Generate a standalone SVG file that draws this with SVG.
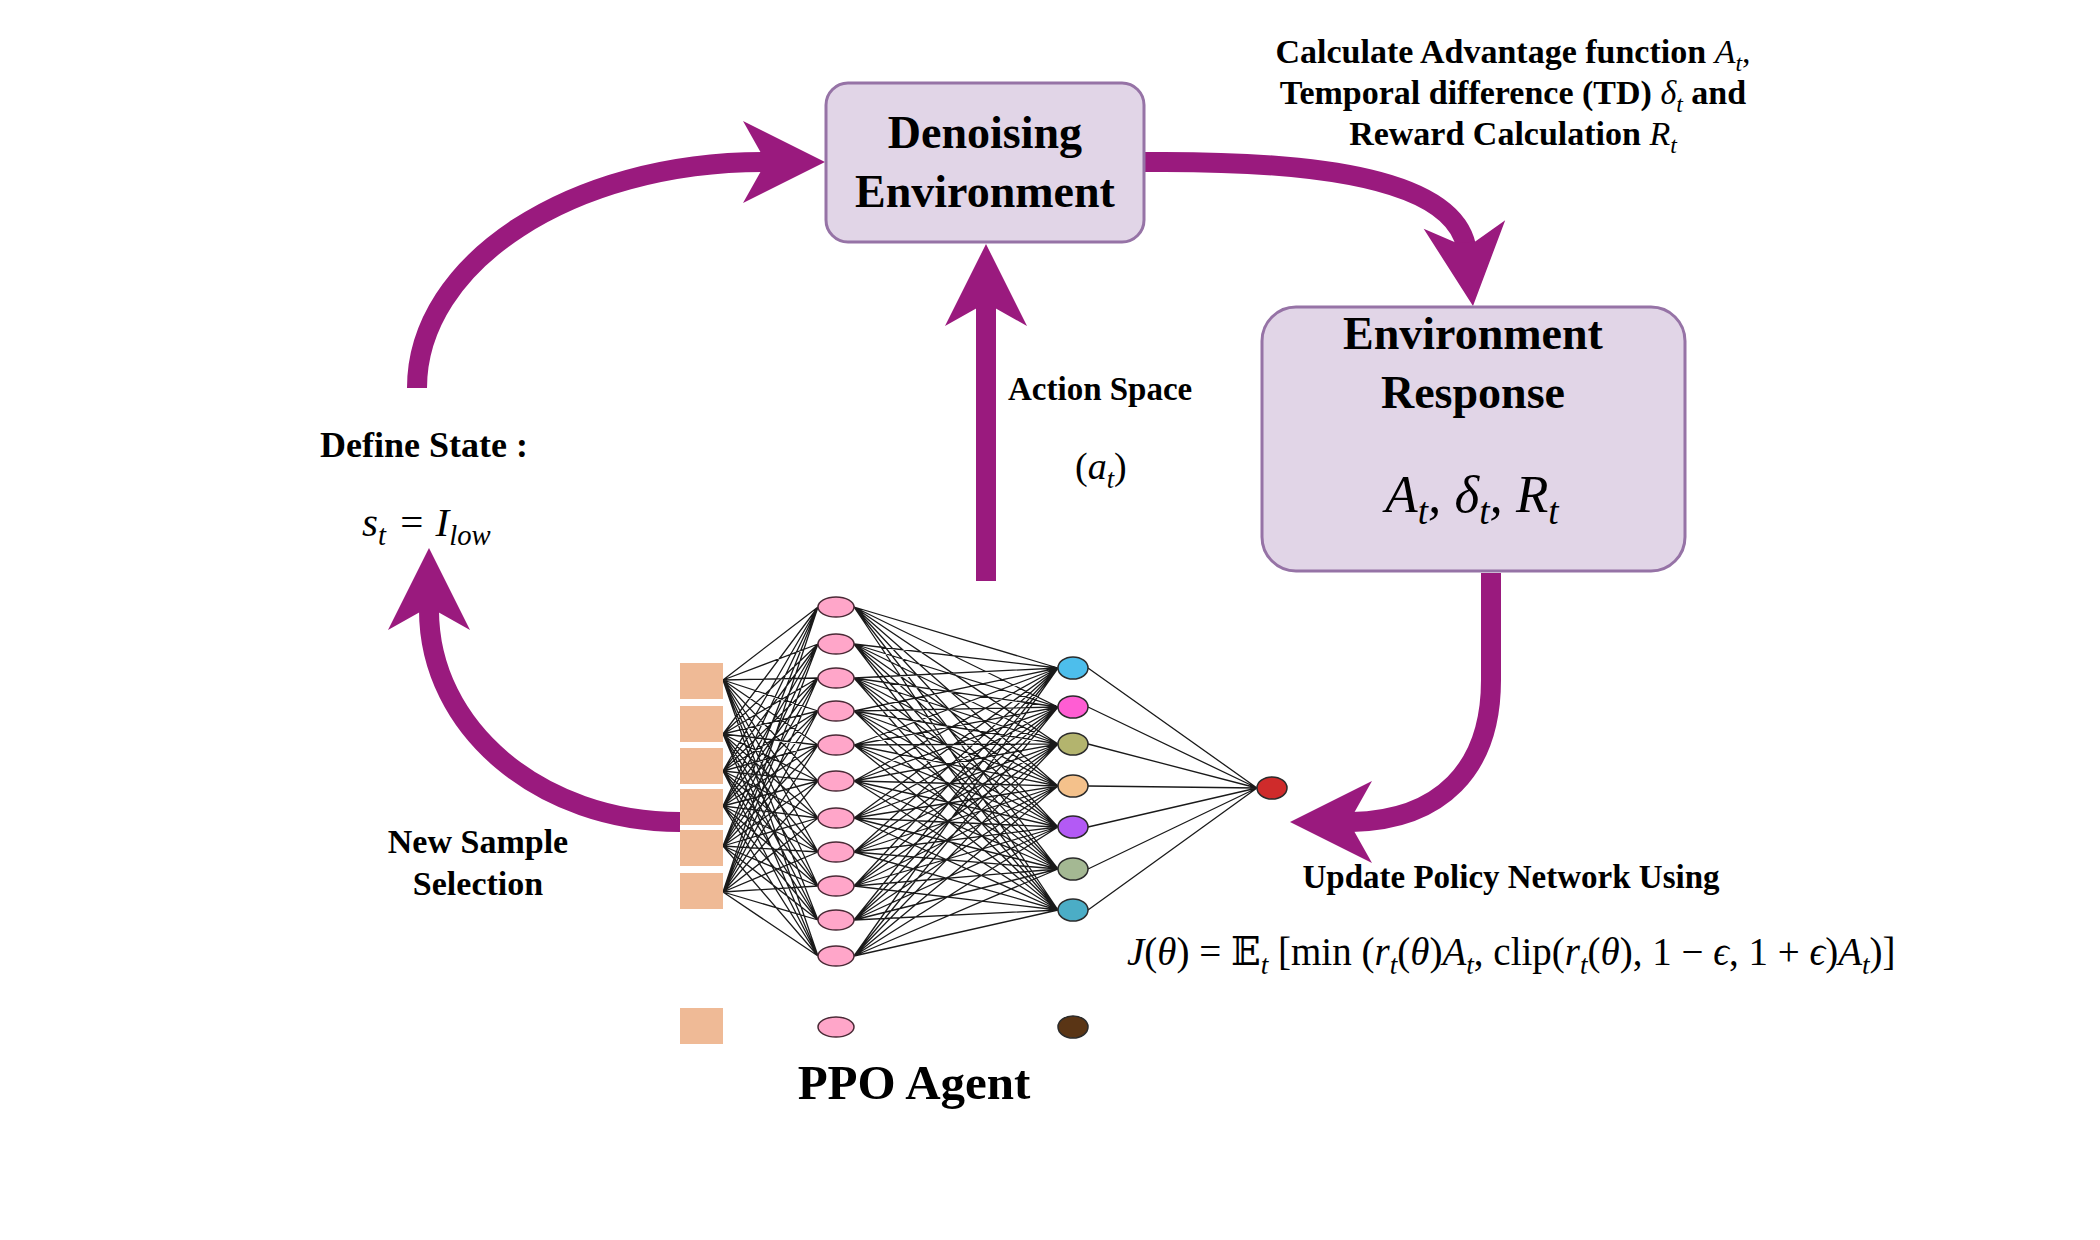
<svg xmlns="http://www.w3.org/2000/svg" width="2100" height="1240" viewBox="0 0 2100 1240">
<style>
.t{font-family:"Liberation Serif","Times New Roman",serif;fill:#000}
.b{font-weight:bold}
.i{font-style:italic;font-weight:normal}
.m{font-weight:normal}
.sub{font-size:70%;baseline-shift:-0.32em}
.box{fill:#E1D5E7;stroke:#9673A6;stroke-width:3}
.arr{fill:none;stroke:#9A1A7E;stroke-width:20}
.ah{fill:#9A1A7E}
.net{fill:none;stroke:#1a1a1a;stroke-width:1.3}
.sq{fill:#EFBA96}
.hn{fill:#FFA6C9;stroke:#4a2a36;stroke-width:1.5}
.on{stroke:#2a2a2a;stroke-width:1.5}
</style>
<defs>
<path id="ah" d="M0 0 L-82 -41 L-64 -9 L-64 9 L-82 41 Z"/>
</defs>
<rect width="2100" height="1240" fill="#fff"/>

<g id="connectors">
<g id="network-links" class="net">
<path d="M723 680L818 607M723 680L818 644M723 680L818 678M723 680L818 711M723 680L818 745M723 680L818 781M723 680L818 818M723 680L818 852M723 680L818 886M723 680L818 920M723 680L818 956
M723 734L818 607M723 734L818 644M723 734L818 678M723 734L818 711M723 734L818 745M723 734L818 781M723 734L818 818M723 734L818 852M723 734L818 886M723 734L818 920M723 734L818 956
M723 771L818 607M723 771L818 644M723 771L818 678M723 771L818 711M723 771L818 745M723 771L818 781M723 771L818 818M723 771L818 852M723 771L818 886M723 771L818 920M723 771L818 956
M723 806L818 607M723 806L818 644M723 806L818 678M723 806L818 711M723 806L818 745M723 806L818 781M723 806L818 818M723 806L818 852M723 806L818 886M723 806L818 920M723 806L818 956
M723 846L818 607M723 846L818 644M723 846L818 678M723 846L818 711M723 846L818 745M723 846L818 781M723 846L818 818M723 846L818 852M723 846L818 886M723 846L818 920M723 846L818 956
M723 892L818 607M723 892L818 644M723 892L818 678M723 892L818 711M723 892L818 745M723 892L818 781M723 892L818 818M723 892L818 852M723 892L818 886M723 892L818 920M723 892L818 956"/>
<path d="M854 607L1058 668M854 607L1058 707M854 607L1058 744M854 607L1058 786M854 607L1058 827M854 607L1058 869M854 607L1058 910
M854 644L1058 668M854 644L1058 707M854 644L1058 744M854 644L1058 786M854 644L1058 827M854 644L1058 869M854 644L1058 910
M854 678L1058 668M854 678L1058 707M854 678L1058 744M854 678L1058 786M854 678L1058 827M854 678L1058 869M854 678L1058 910
M854 711L1058 668M854 711L1058 707M854 711L1058 744M854 711L1058 786M854 711L1058 827M854 711L1058 869M854 711L1058 910
M854 745L1058 668M854 745L1058 707M854 745L1058 744M854 745L1058 786M854 745L1058 827M854 745L1058 869M854 745L1058 910
M854 781L1058 668M854 781L1058 707M854 781L1058 744M854 781L1058 786M854 781L1058 827M854 781L1058 869M854 781L1058 910
M854 818L1058 668M854 818L1058 707M854 818L1058 744M854 818L1058 786M854 818L1058 827M854 818L1058 869M854 818L1058 910
M854 852L1058 668M854 852L1058 707M854 852L1058 744M854 852L1058 786M854 852L1058 827M854 852L1058 869M854 852L1058 910
M854 886L1058 668M854 886L1058 707M854 886L1058 744M854 886L1058 786M854 886L1058 827M854 886L1058 869M854 886L1058 910
M854 920L1058 668M854 920L1058 707M854 920L1058 744M854 920L1058 786M854 920L1058 827M854 920L1058 869M854 920L1058 910
M854 956L1058 668M854 956L1058 707M854 956L1058 744M854 956L1058 786M854 956L1058 827M854 956L1058 869M854 956L1058 910"/>
<path d="M1088 668L1257 788M1088 707L1257 788M1088 744L1257 788M1088 786L1257 788M1088 827L1257 788M1088 869L1257 788M1088 910L1257 788"/>
</g>
<g id="flow-arrows">
<path class="arr" d="M417 388 C417 262 572 162 763 162"/>
<use href="#ah" class="ah" transform="translate(825 162)"/>
<path class="arr" d="M1142 162 C1330 160 1452 182 1466 246"/>
<use href="#ah" class="ah" transform="translate(1473 306) rotate(84)"/>
<path class="arr" d="M986 581 L986 305"/>
<use href="#ah" class="ah" transform="translate(986 244) rotate(-90)"/>
<path class="arr" d="M1491 573 L1491 680 C1491 770 1440 820 1352 822"/>
<use href="#ah" class="ah" transform="translate(1290 822) rotate(180)"/>
<path class="arr" d="M680 822 C541 822 429 729 429 610"/>
<use href="#ah" class="ah" transform="translate(429 548) rotate(-90)"/>
</g>
</g>

<g id="denoising-env">
<rect class="box" x="826" y="83" width="318" height="159" rx="22"/>
<text class="t b" x="985" y="148" font-size="46" text-anchor="middle">Denoising</text>
<text class="t b" x="985" y="207" font-size="46" text-anchor="middle">Environment</text>
</g>

<g id="env-response">
<rect class="box" x="1262" y="307" width="423" height="264" rx="34"/>
<text class="t b" x="1473" y="349" font-size="46" text-anchor="middle">Environment</text>
<text class="t b" x="1473" y="408" font-size="46" text-anchor="middle">Response</text>
<text class="t i" x="1472" y="512" font-size="53" text-anchor="middle">A<tspan class="sub">t</tspan>, δ<tspan class="sub">t</tspan>, R<tspan class="sub">t</tspan></text>
</g>

<g id="label-calc">
<text class="t b" x="1513" y="63" font-size="34" text-anchor="middle">Calculate Advantage function <tspan class="i">A<tspan class="sub">t</tspan></tspan><tspan class="m">,</tspan></text>
<text class="t b" x="1513" y="104" font-size="34" text-anchor="middle">Temporal difference (TD) <tspan class="i">δ<tspan class="sub">t</tspan></tspan> and</text>
<text class="t b" x="1513" y="145" font-size="34" text-anchor="middle">Reward Calculation <tspan class="i">R<tspan class="sub">t</tspan></tspan></text>
</g>

<g id="label-action">
<text class="t b" x="1008" y="400" font-size="33">Action Space</text>
<text class="t" x="1075" y="479" font-size="38">(<tspan class="i">a<tspan class="sub">t</tspan></tspan>)</text>
</g>

<g id="label-state">
<text class="t b" x="320" y="457" font-size="36">Define State :</text>
<text class="t" x="362" y="536" font-size="41"><tspan class="i">s<tspan class="sub">t</tspan></tspan><tspan dx="4"> = </tspan><tspan class="i" dx="2">I<tspan class="sub">low</tspan></tspan></text>
</g>

<g id="label-sample">
<text class="t b" x="478" y="853" font-size="34" text-anchor="middle">New Sample</text>
<text class="t b" x="478" y="895" font-size="34" text-anchor="middle">Selection</text>
</g>

<g id="label-update">
<text class="t b" x="1511" y="888" font-size="33" text-anchor="middle">Update Policy Network Using</text>
<text class="t" x="1127" y="965" font-size="39"><tspan class="i">J</tspan>(<tspan class="i">θ</tspan>) = <tspan font-family="DejaVu Serif, DejaVu Sans, serif">𝔼</tspan><tspan class="sub i">t</tspan> [min (<tspan class="i">r<tspan class="sub">t</tspan></tspan>(<tspan class="i">θ</tspan>)<tspan class="i">A<tspan class="sub">t</tspan></tspan>, clip(<tspan class="i">r<tspan class="sub">t</tspan></tspan>(<tspan class="i">θ</tspan>), 1 − <tspan class="i">ϵ</tspan>, 1 + <tspan class="i">ϵ</tspan>)<tspan class="i">A<tspan class="sub">t</tspan></tspan>)]</text>
</g>

<g id="ppo-agent">
<text class="t b" x="914" y="1099" font-size="49" text-anchor="middle">PPO Agent</text>
</g>

<g id="input-layer">
<g id="in1"><rect class="sq" x="680" y="663" width="43" height="36"/></g>
<g id="in2"><rect class="sq" x="680" y="706" width="43" height="36"/></g>
<g id="in3"><rect class="sq" x="680" y="748" width="43" height="36"/></g>
<g id="in4"><rect class="sq" x="680" y="789" width="43" height="36"/></g>
<g id="in5"><rect class="sq" x="680" y="830" width="43" height="36"/></g>
<g id="in6"><rect class="sq" x="680" y="873" width="43" height="36"/></g>
<g id="in7"><rect class="sq" x="680" y="1008" width="43" height="36"/></g>
</g>

<g id="hidden-layer">
<g id="h1"><ellipse class="hn" cx="836" cy="607" rx="18" ry="10"/></g>
<g id="h2"><ellipse class="hn" cx="836" cy="644" rx="18" ry="10"/></g>
<g id="h3"><ellipse class="hn" cx="836" cy="678" rx="18" ry="10"/></g>
<g id="h4"><ellipse class="hn" cx="836" cy="711" rx="18" ry="10"/></g>
<g id="h5"><ellipse class="hn" cx="836" cy="745" rx="18" ry="10"/></g>
<g id="h6"><ellipse class="hn" cx="836" cy="781" rx="18" ry="10"/></g>
<g id="h7"><ellipse class="hn" cx="836" cy="818" rx="18" ry="10"/></g>
<g id="h8"><ellipse class="hn" cx="836" cy="852" rx="18" ry="10"/></g>
<g id="h9"><ellipse class="hn" cx="836" cy="886" rx="18" ry="10"/></g>
<g id="h10"><ellipse class="hn" cx="836" cy="920" rx="18" ry="10"/></g>
<g id="h11"><ellipse class="hn" cx="836" cy="956" rx="18" ry="10"/></g>
<g id="h12"><ellipse class="hn" cx="836" cy="1027" rx="18" ry="10"/></g>
</g>

<g id="output-layer">
<g id="o1"><ellipse class="on" fill="#4DBEEC" cx="1073" cy="668" rx="15" ry="11"/></g>
<g id="o2"><ellipse class="on" fill="#FF5DD3" cx="1073" cy="707" rx="15" ry="11"/></g>
<g id="o3"><ellipse class="on" fill="#B3B46E" cx="1073" cy="744" rx="15" ry="11"/></g>
<g id="o4"><ellipse class="on" fill="#F4C18B" cx="1073" cy="786" rx="15" ry="11"/></g>
<g id="o5"><ellipse class="on" fill="#B35AF5" cx="1073" cy="827" rx="15" ry="11"/></g>
<g id="o6"><ellipse class="on" fill="#A4B893" cx="1073" cy="869" rx="15" ry="11"/></g>
<g id="o7"><ellipse class="on" fill="#4BADC6" cx="1073" cy="910" rx="15" ry="11"/></g>
<g id="o8"><ellipse class="on" fill="#5A3515" cx="1073" cy="1027" rx="15" ry="11"/></g>
</g>

<g id="value-out">
<ellipse class="on" fill="#CF2B2B" cx="1272" cy="788" rx="15" ry="11"/>
</g>
</svg>
